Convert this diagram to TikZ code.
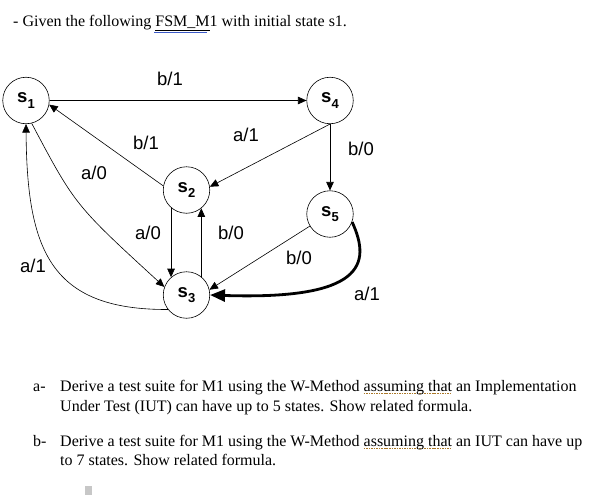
\documentclass[tikz,border=0pt]{standalone}
\usepackage{fontspec}
\setmainfont{Liberation Serif}
\newfontfamily\arialf{Liberation Sans}
\usetikzlibrary{arrows.meta}
\definecolor{ulbrown}{RGB}{170,120,40}
\definecolor{ulblue}{RGB}{60,90,200}
\newlength\myulw
\newcommand\grammarul[1]{\settowidth\myulw{#1}\rlap{\textcolor{ulbrown}{\raisebox{-3pt}{\hbox to \myulw{\xleaders\hbox{\rule{1.6pt}{1.1pt}\hspace{0.9pt}}\hfill}}}}#1}
\newcommand\stlab[1]{{\arialf\bfseries\fontsize{18.5}{20}\selectfont s\raisebox{-5.5pt}{\fontsize{13}{13}\selectfont #1}}}
\tikzset{
  state/.style={circle, draw, line width=0.6pt, minimum size=46.5pt, inner sep=0pt},
  lbl/.style={font=\arialf\fontsize{18.5}{20}\selectfont, inner sep=0pt},
  arr/.style={-{Triangle[length=8.5pt,width=7.5pt]}, line width=0.6pt},
  thickarr/.style={-{Triangle[length=15pt,width=12pt]}, line width=2.8pt},
  txt/.style={font=\fontsize{16}{20}\selectfont, inner sep=0pt, anchor=base west}
}
\begin{document}
\begin{tikzpicture}[x=1pt,y=-1pt]
\useasboundingbox (0,0) rectangle (593,495);
% states
\node[state] (s1) at (26,100.5) {\stlab{1}};
\node[state] (s4) at (330,100.5) {\stlab{4}};
\node[state] (s2) at (186.5,190) {\stlab{2}};
\node[state] (s3) at (186.5,295) {\stlab{3}};
\node[state] (s5) at (330,214) {\stlab{5}};
% transitions
\draw[arr] (s1.east) -- (s4.west);
\draw[arr] (s2.170) -- (s1.-10);
\draw[arr] (s4.south) -- (s2.8);
\draw[arr] (s4.south) -- (s5.north);
\draw[arr] (s1.-76) .. controls (75,205) .. (s3.160);
\draw[arr] (s3.218) .. controls (50,310) and (27,250) .. (s1.south);
\draw[arr] (s2.-131) -- (s3.131);
\draw[arr] (s3.51) -- (s2.-51);
\draw[arr] (s5.211) -- (s3.13);
\draw[thickarr] (s5.-20) .. controls (372,265) and (362,300) .. (s3.east);
% labels
\node[lbl] (l1) at (170,79) {b/1};
\node[lbl] (l2) at (146,143) {b/1};
\node[lbl] (l3) at (246,135) {a/1};
\node[lbl] (l4) at (361,149) {b/0};
\node[lbl] (l5) at (94,173) {a/0};
\node[lbl] (l6) at (148,233) {a/0};
\node[lbl] (l7) at (231,233) {b/0};
\node[lbl] (l8) at (33,266) {a/1};
\node[lbl] (l9) at (299,258) {b/0};
\node[lbl] (l10) at (367,294) {a/1};
% texts
\node[txt] (title) at (13,27) {- Given the following \underline{FSM\_M}1 with initial state s1.};
\draw[ulblue, line width=0.9pt] (154,32) -- (207,32);
\node[txt] (qa) at (33,391) {a-};
\node[txt] (qa1) at (60,391) {Derive a test suite for M1 using the W-Method \grammarul{assuming that} an Implementation};
\node[txt] (qa2) at (60,411) {Under Test (IUT) can have up to 5 states. Show related formula.};
\node[txt] (qb) at (33,446) {b-};
\node[txt] (qb1) at (60,446) {Derive a test suite for M1 using the W-Method \grammarul{assuming that} an IUT can have up};
\node[txt] (qb2) at (60,465) {to 7 states. Show related formula.};
\fill[black!22] (85,486) rectangle (92,495);
\end{tikzpicture}
\end{document}
